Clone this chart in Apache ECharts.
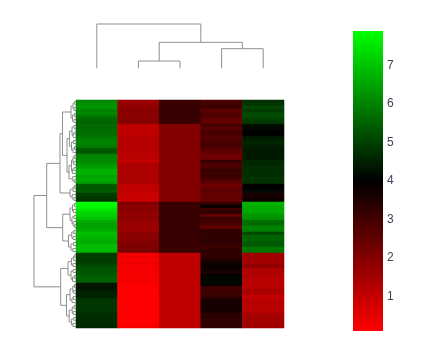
<!DOCTYPE html>
<html>
<head>
<meta charset="utf-8">
<script src="https://cdn.jsdelivr.net/npm/echarts@6/dist/echarts.min.js"></script>
<style>html,body{margin:0;padding:0;background:#fff}#chart{width:425px;height:359px}</style>
</head>
<body>
<div id="chart"></div>
<script>
// ---- data ----
const columnNames = ['C1', 'C2', 'C3', 'C4', 'C5'];
const col1 = [6.1, 6.2, 6.3, 6.0, 6.1, 5.8, 5.6, 5.5,
  5.6, 5.6, 5.7, 5.7, 5.85, 6.0, 6.0, 5.9, 5.4, 5.3, 6.0, 6.05, 6.1, 6.3, 6.45, 6.7, 6.7, 6.5, 6.6, 6.45, 5.4, 5.3, 5.45, 4.95, 4.85, 4.75,
  7.9, 7.8, 7.6, 7.3, 7.2, 7.0, 6.6, 6.5, 6.45, 6.6, 6.9, 6.8, 6.7, 6.6, 6.85, 6.9, 6.8,
  4.9, 4.95, 4.9, 5.0, 5.2, 5.3, 5.3, 5.4, 5.5, 5.45, 4.35, 4.3, 4.4, 4.55, 4.5, 4.8, 4.85, 4.8, 4.85, 4.8, 4.7, 4.7, 4.65, 4.7, 4.6];
const col2 = [1.6, 1.7, 1.85, 1.9, 1.85, 1.9, 1.95, 2.0,
  1.1, 1.05, 1.1, 1.1, 1.2, 1.25, 1.2, 1.25, 1.2, 1.15, 1.15, 1.2, 0.95, 1.35, 1.4, 1.35, 1.4, 1.4, 1.35, 1.4, 1.1, 1.05, 1.1, 0.95, 0.9, 0.95,
  2.0, 1.9, 1.95, 1.8, 1.7, 1.9, 1.7, 1.65, 1.6, 1.65, 1.9, 1.85, 1.95, 2.0, 2.05, 2.1, 2.15,
  0.25, 0.3, 0.2, 0.35, 0.2, 0.25, 0.3, 0.15, 0.2, 0.25, 0.1, 0.15, 0.1, 0.12, 0.1, 0.15, 0.1, 0.12, 0.15, 0.1, 0.12, 0.15, 0.1, 0.12, 0.2];
const col3 = [3.15, 3.15, 3.15, 3.15, 3.15, 3.15, 3.15, 3.15,
  2.0, 2.0, 2.0, 2.0, 2.0, 2.0, 2.0, 2.0, 2.0, 2.0, 2.0, 2.0, 2.0, 2.0, 2.0, 2.0, 2.0, 2.0, 2.0, 2.0, 2.0, 2.0, 2.0, 2.0, 2.0, 2.0,
  3.15, 3.15, 3.15, 3.15, 3.15, 3.15, 3.15, 3.15, 3.15, 3.15, 3.15, 3.15, 3.15, 3.15, 3.15, 3.15, 3.15,
  1.1, 1.1, 1.1, 1.1, 1.1, 1.1, 1.1, 1.1, 1.1, 1.1, 1.1, 1.1, 1.1, 1.1, 1.1, 1.1, 1.1, 1.1, 1.1, 1.1, 1.1, 1.1, 1.1, 1.1, 1.1];
const col4 = [2.85, 3.05, 3.1, 2.55, 2.75, 2.8, 2.5, 2.45,
  2.95, 2.65, 2.85, 2.85, 2.7, 2.75, 2.95, 2.95, 2.65, 2.6, 2.3, 2.3, 3.2, 2.8, 2.8, 3.2, 3.1, 3.1, 2.85, 2.6, 2.3, 2.5, 2.6, 2.5, 2.45, 2.45,
  3.1, 3.95, 3.1, 3.35, 2.45, 3.1, 3.0, 2.9, 2.4, 3.25, 3.25, 3.2, 3.3, 3.35, 3.1, 3.15, 3.3,
  3.25, 3.3, 3.5, 3.82, 3.85, 3.8, 3.55, 3.92, 4.1, 4.15, 4.05, 3.1, 3.05, 3.1, 3.2, 3.6, 3.65, 3.7, 3.7, 3.68, 3.3, 3.35, 3.3, 3.25, 3.35];
const col5 = [4.75, 4.8, 5.05, 4.85, 5.1, 5.15, 4.95, 4.9,
  4.2, 4.15, 4.03, 4.02, 4.35, 4.5, 4.55, 4.45, 4.4, 4.35, 4.4, 4.4, 4.6, 4.6, 4.7, 4.7, 4.7, 4.7, 4.75, 4.75, 4.0, 4.0, 4.15, 3.55, 3.75, 3.8,
  6.75, 6.65, 6.6, 6.55, 6.3, 6.25, 5.7, 5.65, 6.0, 5.95, 5.1, 5.5, 5.55, 5.4, 5.35, 5.85, 5.8,
  1.55, 1.6, 1.5, 1.55, 1.85, 1.35, 1.3, 1.35, 1.2, 1.15, 1.2, 1.15, 1.4, 1.35, 1.0, 1.15, 1.2, 1.15, 1.2, 1.15, 1.45, 1.5, 1.45, 1.5, 1.55];
const rowIds = col1.map((_, i) => 'r' + (i + 1));
const valueMin = 0.1, valueMax = 7.9;
const colorbarTicks = [1, 2, 3, 4, 5, 6, 7];

// dendrogram trees: [mergeHeight, left, right]; leaves are indices
const colTree = [44.3, 0, [26, [7.3, 1, 2], [19.6, 3, 4]]];
const treeC1 = [5, [3, [1.2, 0, 1], [2, 2, 3]], [3.5, [1.5, 4, 5], [2.2, 6, 7]]];
const treeC2a = [9,
  [6.5, [4, [2, 8, 9], [2.8, [1, 10, 11], 12]], [4.5, [2.5, 13, 14], [3, [1.5, 15, 16], 17]]],
  [7, [4.5, [3, [1.8, 18, 19], [2.4, 20, 21]], [3.6, [2, 22, 23], 24]], [3.2, 25, [1.4, 26, 27]]]];
const treeC2b = [6, [3, [1.5, 28, 29], 30], [3.8, 31, [2, 32, 33]]];
const treeC3 = [13.3,
  [6, [3.5, [1.5, 34, 35], [2.5, 36, 37]], [4, [2, 38, 39], [2.8, 40, [1.3, 41, 42]]]],
  [7.5, [4.2, [2.2, 43, 44], [3, 45, 46]], [5, [2.6, 47, 48], [3.2, 49, 50]]]];
const treeC4 = [15.3,
  [8, [4.5, [2.4, [1.2, 51, 52], 53], [3, 54, 55]], [5, [2.8, 56, 57], [3.5, [1.6, 58, 59], 60]]],
  [9.5, [6, [3.2, [1.5, 61, 62], [2.2, 63, 64]], [4, [2.5, 65, 66], 67]],
        [6.8, [3.8, [2, 68, 69], [2.8, 70, 71]], [4.4, [2.1, 72, 73], [3.1, 74, 75]]]]];
const rowTree = [42, [29.3, [16, [13.5, treeC1, treeC2a], treeC2b], treeC3], treeC4];

// ---- build ----
function dendroSegments(tree, horizontal) {
  const segs = [];
  function walk(n) {
    if (typeof n === 'number') return { h: 0, p: n + 0.5 };
    const a = walk(n[1]), b = walk(n[2]);
    if (horizontal) segs.push([a.h, a.p, n[0], a.p, n[0], b.p, b.h, b.p]);
    else segs.push([a.p, a.h, a.p, n[0], b.p, n[0], b.p, b.h]);
    return { h: n[0], p: (a.p + b.p) / 2 };
  }
  walk(tree);
  return segs;
}
const cols = [col1, col2, col3, col4, col5];
const heatData = [];
cols.forEach((c, ci) => c.forEach((v, ri) => heatData.push([ci, ri, v])));

function renderElbow(params, api) {
  const pts = [];
  for (let k = 0; k < 4; k++) pts.push(api.coord([api.value(2 * k), api.value(2 * k + 1)]));
  return { type: 'polyline', shape: { points: pts }, style: { stroke: '#8f8f8f', lineWidth: 1, fill: null } };
}

const chart = echarts.init(document.getElementById('chart'), null, { renderer: 'canvas' });
const hidden = { show: false };
chart.setOption({
  animation: false,
  backgroundColor: '#fff',
  grid: [
    { left: 76, top: 100, width: 208, height: 228 },   // heatmap
    { left: 34, top: 100, width: 42, height: 228 },    // row dendrogram
    { left: 76, top: 24, width: 208, height: 44.3 },   // column dendrogram
    { left: 353, top: 31, width: 30, height: 300 }     // colour bar
  ],
  xAxis: [
    { type: 'category', gridIndex: 0, data: columnNames, show: false },
    { type: 'value', gridIndex: 1, min: 0, max: 42, inverse: true, show: false },
    { type: 'value', gridIndex: 2, min: 0, max: 5, show: false },
    { type: 'value', gridIndex: 3, min: 0, max: 1, show: false }
  ],
  yAxis: [
    { type: 'category', gridIndex: 0, data: rowIds, inverse: true, show: false },
    { type: 'value', gridIndex: 1, min: 0, max: 76, inverse: true, show: false },
    { type: 'value', gridIndex: 2, min: 0, max: 44.3, show: false },
    { type: 'value', gridIndex: 3, min: valueMin, max: valueMax, position: 'right',
      axisLine: { show: false }, axisTick: { show: false }, splitLine: { show: false },
      axisLabel: { customValues: colorbarTicks, margin: 4, color: '#3b4557', fontSize: 12,
        fontFamily: 'Liberation Sans, Arial, sans-serif' } }
  ],
  visualMap: {
    show: false, type: 'continuous', min: valueMin, max: valueMax, seriesIndex: 0,
    inRange: { color: ['#ff0000', '#000000', '#00ff00'] }
  },
  series: [
    { type: 'heatmap', xAxisIndex: 0, yAxisIndex: 0, data: heatData, itemStyle: { borderWidth: 0 } },
    { type: 'custom', xAxisIndex: 1, yAxisIndex: 1, renderItem: renderElbow, data: dendroSegments(rowTree, true), silent: true },
    { type: 'custom', xAxisIndex: 2, yAxisIndex: 2, renderItem: renderElbow, data: dendroSegments(colTree, false), silent: true },
    { type: 'custom', xAxisIndex: 3, yAxisIndex: 3, silent: true, data: [[0, valueMin, 1, valueMax]],
      renderItem: function (params, api) {
        const p0 = api.coord([api.value(0), api.value(3)]);
        const p1 = api.coord([api.value(2), api.value(1)]);
        return { type: 'rect', shape: { x: p0[0], y: p0[1], width: p1[0] - p0[0], height: p1[1] - p0[1] },
          style: { fill: new echarts.graphic.LinearGradient(0, 0, 0, 1, [
            { offset: 0, color: '#00ff00' }, { offset: 0.5, color: '#000000' }, { offset: 1, color: '#ff0000' }]) } };
      } }
  ]
});
</script>
</body>
</html>
